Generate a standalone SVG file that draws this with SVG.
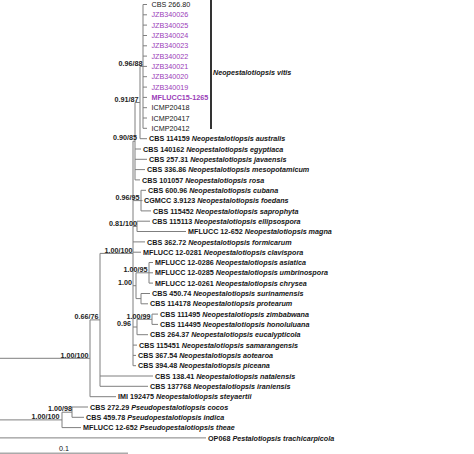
<svg xmlns="http://www.w3.org/2000/svg" width="474" height="454" viewBox="0 0 474 454">
<style>
text{font-family:"Liberation Sans",Arial,sans-serif;font-size:7.2px;fill:#151515}
.b{font-weight:bold}
.i{font-style:italic;font-weight:bold}
.p{fill:#9a3db8}
.s{font-weight:bold;text-anchor:end;fill:#222}
.br{stroke:#7f7f7f;stroke-width:1;fill:none}
</style>
<rect width="474" height="454" fill="#fff"/>
<g id="connectors">
<path class="br" d="M143,4.5V128.3M140,66.4V138.7M135,102.5V179.9M141,190.3V210.9M137,221.2V231.5M149,262.5V283.1M141,293.5V303.8M136,272.8V298.6M152,314.1V324.4M137,319.3V334.7M133,141.2V365.7M100,253.4V386.3M90,319.9V396.7M72,407V417.3M62,412.2V427.6"/>
<path class="br" d="M140,66.4H143M135,102.5H140M133,141.2H135M133,200.6H141M133,226.4H137M136,272.8H149M136,298.6H141M133,285.7H136M137,319.3H152M133,327H137M100,253.4H133M90,319.9H100M0,358.3H90M62,412.2H72M0,419.9H62"/>
<path class="br" d="M143,4.5H147M143,14.8H147M143,25.1H147M143,35.5H147M143,45.8H147M143,56.1H147M143,66.4H147M143,76.7H147M143,87.1H147M143,97.4H147M143,107.7H147M143,118H147M143,128.3H147M140,138.7H147M135,149H141M135,159.3H147M135,169.6H145M135,179.9H140M141,190.3H146M141,200.6H142.5M141,210.9H151M137,221.2H150M137,231.5H186M133,241.9H145M133,252.2H141M149,262.5H153M149,272.8H153M149,283.1H153M141,293.5H150M141,303.8H148M152,314.1H158M152,324.4H158M137,334.7H148M133,345.1H137M133,355.4H136M133,365.7H136M100,376H153M100,386.3H148M90,396.7H116M72,407H88M72,417.3H84M62,427.6H81M0,437.9H206"/>
<line x1="211" y1="0" x2="211" y2="129" stroke="#000" stroke-width="1.6"/>
<line x1="0" y1="453.3" x2="128" y2="453.3" stroke="#aaa" stroke-width="1.4"/>
</g>
<g id="clade-vitis"><text class="i" x="213" y="74.5">Neopestalotiopsis vitis</text></g>
<g id="leaf-CBS26680"><text x="151.5" y="7.1">CBS 266.80</text></g>
<g id="leaf-JZB340026"><text class="p" x="151.5" y="17.4">JZB340026</text></g>
<g id="leaf-JZB340025"><text class="p" x="151.5" y="27.7">JZB340025</text></g>
<g id="leaf-JZB340024"><text class="p" x="151.5" y="38.1">JZB340024</text></g>
<g id="leaf-JZB340023"><text class="p" x="151.5" y="48.4">JZB340023</text></g>
<g id="leaf-JZB340022"><text class="p" x="151.5" y="58.7">JZB340022</text></g>
<g id="leaf-JZB340021"><text class="p" x="151.5" y="69">JZB340021</text></g>
<g id="leaf-JZB340020"><text class="p" x="151.5" y="79.3">JZB340020</text></g>
<g id="leaf-JZB340019"><text class="p" x="151.5" y="89.7">JZB340019</text></g>
<g id="leaf-MFLUCC151265"><text class="p b" x="151.5" y="100">MFLUCC15-1265</text></g>
<g id="leaf-ICMP20418"><text x="151.5" y="110.3">ICMP20418</text></g>
<g id="leaf-ICMP20417"><text x="151.5" y="120.6">ICMP20417</text></g>
<g id="leaf-ICMP20412"><text x="151.5" y="130.9">ICMP20412</text></g>
<g id="leaf-australis"><text class="b" x="149" y="141.3">CBS 114159 <tspan class="i">Neopestalotiopsis australis</tspan></text></g>
<g id="leaf-egyptiaca"><text class="b" x="143" y="151.6">CBS 140162 <tspan class="i">Neopestalotiopsis egyptiaca</tspan></text></g>
<g id="leaf-javaensis"><text class="b" x="149" y="161.9">CBS 257.31 <tspan class="i">Neopestalotiopsis javaensis</tspan></text></g>
<g id="leaf-mesopotamicum"><text class="b" x="147" y="172.2">CBS 336.86 <tspan class="i">Neopestalotiopsis mesopotamicum</tspan></text></g>
<g id="leaf-rosa"><text class="b" x="142" y="182.5">CBS 101057 <tspan class="i">Neopestalotiopsis rosa</tspan></text></g>
<g id="leaf-cubana"><text class="b" x="148" y="192.9">CBS 600.96 <tspan class="i">Neopestalotiopsis cubana</tspan></text></g>
<g id="leaf-foedans"><text class="b" x="144" y="203.2">CGMCC 3.9123 <tspan class="i">Neopestalotiopsis foedans</tspan></text></g>
<g id="leaf-saprophyta"><text class="b" x="153" y="213.5">CBS 115452 <tspan class="i">Neopestalotiopsis saprophyta</tspan></text></g>
<g id="leaf-ellipsospora"><text class="b" x="152" y="223.8">CBS 115113 <tspan class="i">Neopestalotiopsis ellipsospora</tspan></text></g>
<g id="leaf-magna"><text class="b" x="188" y="234.1">MFLUCC 12-652 <tspan class="i">Neopestalotiopsis magna</tspan></text></g>
<g id="leaf-formicarum"><text class="b" x="147" y="244.5">CBS 362.72 <tspan class="i">Neopestalotiopsis formicarum</tspan></text></g>
<g id="leaf-clavispora"><text class="b" x="143" y="254.8">MFLUCC 12-0281 <tspan class="i">Neopestalotiopsis clavispora</tspan></text></g>
<g id="leaf-asiatica"><text class="b" x="155" y="265.1">MFLUCC 12-0286 <tspan class="i">Neopestalotiopsis asiatica</tspan></text></g>
<g id="leaf-umbrinospora"><text class="b" x="155" y="275.4">MFLUCC 12-0285 <tspan class="i">Neopestalotiopsis umbrinospora</tspan></text></g>
<g id="leaf-chrysea"><text class="b" x="155" y="285.7">MFLUCC 12-0261 <tspan class="i">Neopestalotiopsis chrysea</tspan></text></g>
<g id="leaf-surinamensis"><text class="b" x="152" y="296.1">CBS 450.74 <tspan class="i">Neopestalotiopsis surinamensis</tspan></text></g>
<g id="leaf-protearum"><text class="b" x="150" y="306.4">CBS 114178 <tspan class="i">Neopestalotiopsis protearum</tspan></text></g>
<g id="leaf-zimbabwana"><text class="b" x="160" y="316.7">CBS 111495 <tspan class="i">Neopestalotiopsis zimbabwana</tspan></text></g>
<g id="leaf-honoluluana"><text class="b" x="160" y="327">CBS 114495 <tspan class="i">Neopestalotiopsis honoluluana</tspan></text></g>
<g id="leaf-eucalypticola"><text class="b" x="150" y="337.3">CBS 264.37 <tspan class="i">Neopestalotiopsis eucalypticola</tspan></text></g>
<g id="leaf-samarangensis"><text class="b" x="139" y="347.7">CBS 115451 <tspan class="i">Neopestalotiopsis samarangensis</tspan></text></g>
<g id="leaf-aotearoa"><text class="b" x="138" y="358">CBS 367.54 <tspan class="i">Neopestalotiopsis aotearoa</tspan></text></g>
<g id="leaf-piceana"><text class="b" x="138" y="368.3">CBS 394.48 <tspan class="i">Neopestalotiopsis piceana</tspan></text></g>
<g id="leaf-natalensis"><text class="b" x="155" y="378.6">CBS 138.41 <tspan class="i">Neopestalotiopsis natalensis</tspan></text></g>
<g id="leaf-iraniensis"><text class="b" x="150" y="388.9">CBS 137768 <tspan class="i">Neopestalotiopsis iraniensis</tspan></text></g>
<g id="leaf-steyaertii"><text class="b" x="118" y="399.3">IMI 192475 <tspan class="i">Neopestalotiopsis steyaertii</tspan></text></g>
<g id="leaf-cocos"><text class="b" x="90" y="409.6">CBS 272.29 <tspan class="i">Pseudopestalotiopsis cocos</tspan></text></g>
<g id="leaf-indica"><text class="b" x="86" y="419.9">CBS 459.78 <tspan class="i">Pseudopestalotiopsis indica</tspan></text></g>
<g id="leaf-theae"><text class="b" x="83" y="430.2">MFLUCC 12-652 <tspan class="i">Pseudopestalotiopsis theae</tspan></text></g>
<g id="leaf-trachicarpicola"><text class="b" x="208" y="440.5">OP068 <tspan class="i">Pestalotiopsis trachicarpicola</tspan></text></g>
<g id="node-v1"><text class="s" x="142.5" y="65.6">0.96/88</text></g>
<g id="node-v2"><text class="s" x="138.5" y="101.7">0.91/87</text></g>
<g id="node-v3"><text class="s" x="137" y="140.4">0.90/85</text></g>
<g id="node-fo"><text class="s" x="139.5" y="199.8">0.96/95</text></g>
<g id="node-d"><text class="s" x="137" y="225.6">0.81/100</text></g>
<g id="node-c"><text class="s" x="132.5" y="252.6">1.00/100</text></g>
<g id="node-as"><text class="s" x="147.5" y="272">1.00/95</text></g>
<g id="node-f"><text class="s" x="132" y="284.9">1.00</text></g>
<g id="node-i"><text class="s" x="150.5" y="318.5">1.00/99</text></g>
<g id="node-h"><text class="s" x="131" y="326.2">0.96</text></g>
<g id="node-n100"><text class="s" x="98.5" y="319.1">0.66/76</text></g>
<g id="node-n90"><text class="s" x="88.5" y="357.5">1.00/100</text></g>
<g id="node-p2"><text class="s" x="72" y="411.4">1.00/98</text></g>
<g id="node-p1"><text class="s" x="59.5" y="419.1">1.00/100</text></g>
<g id="scale"><text x="64" y="451.3" text-anchor="middle">0.1</text></g>
</svg>
